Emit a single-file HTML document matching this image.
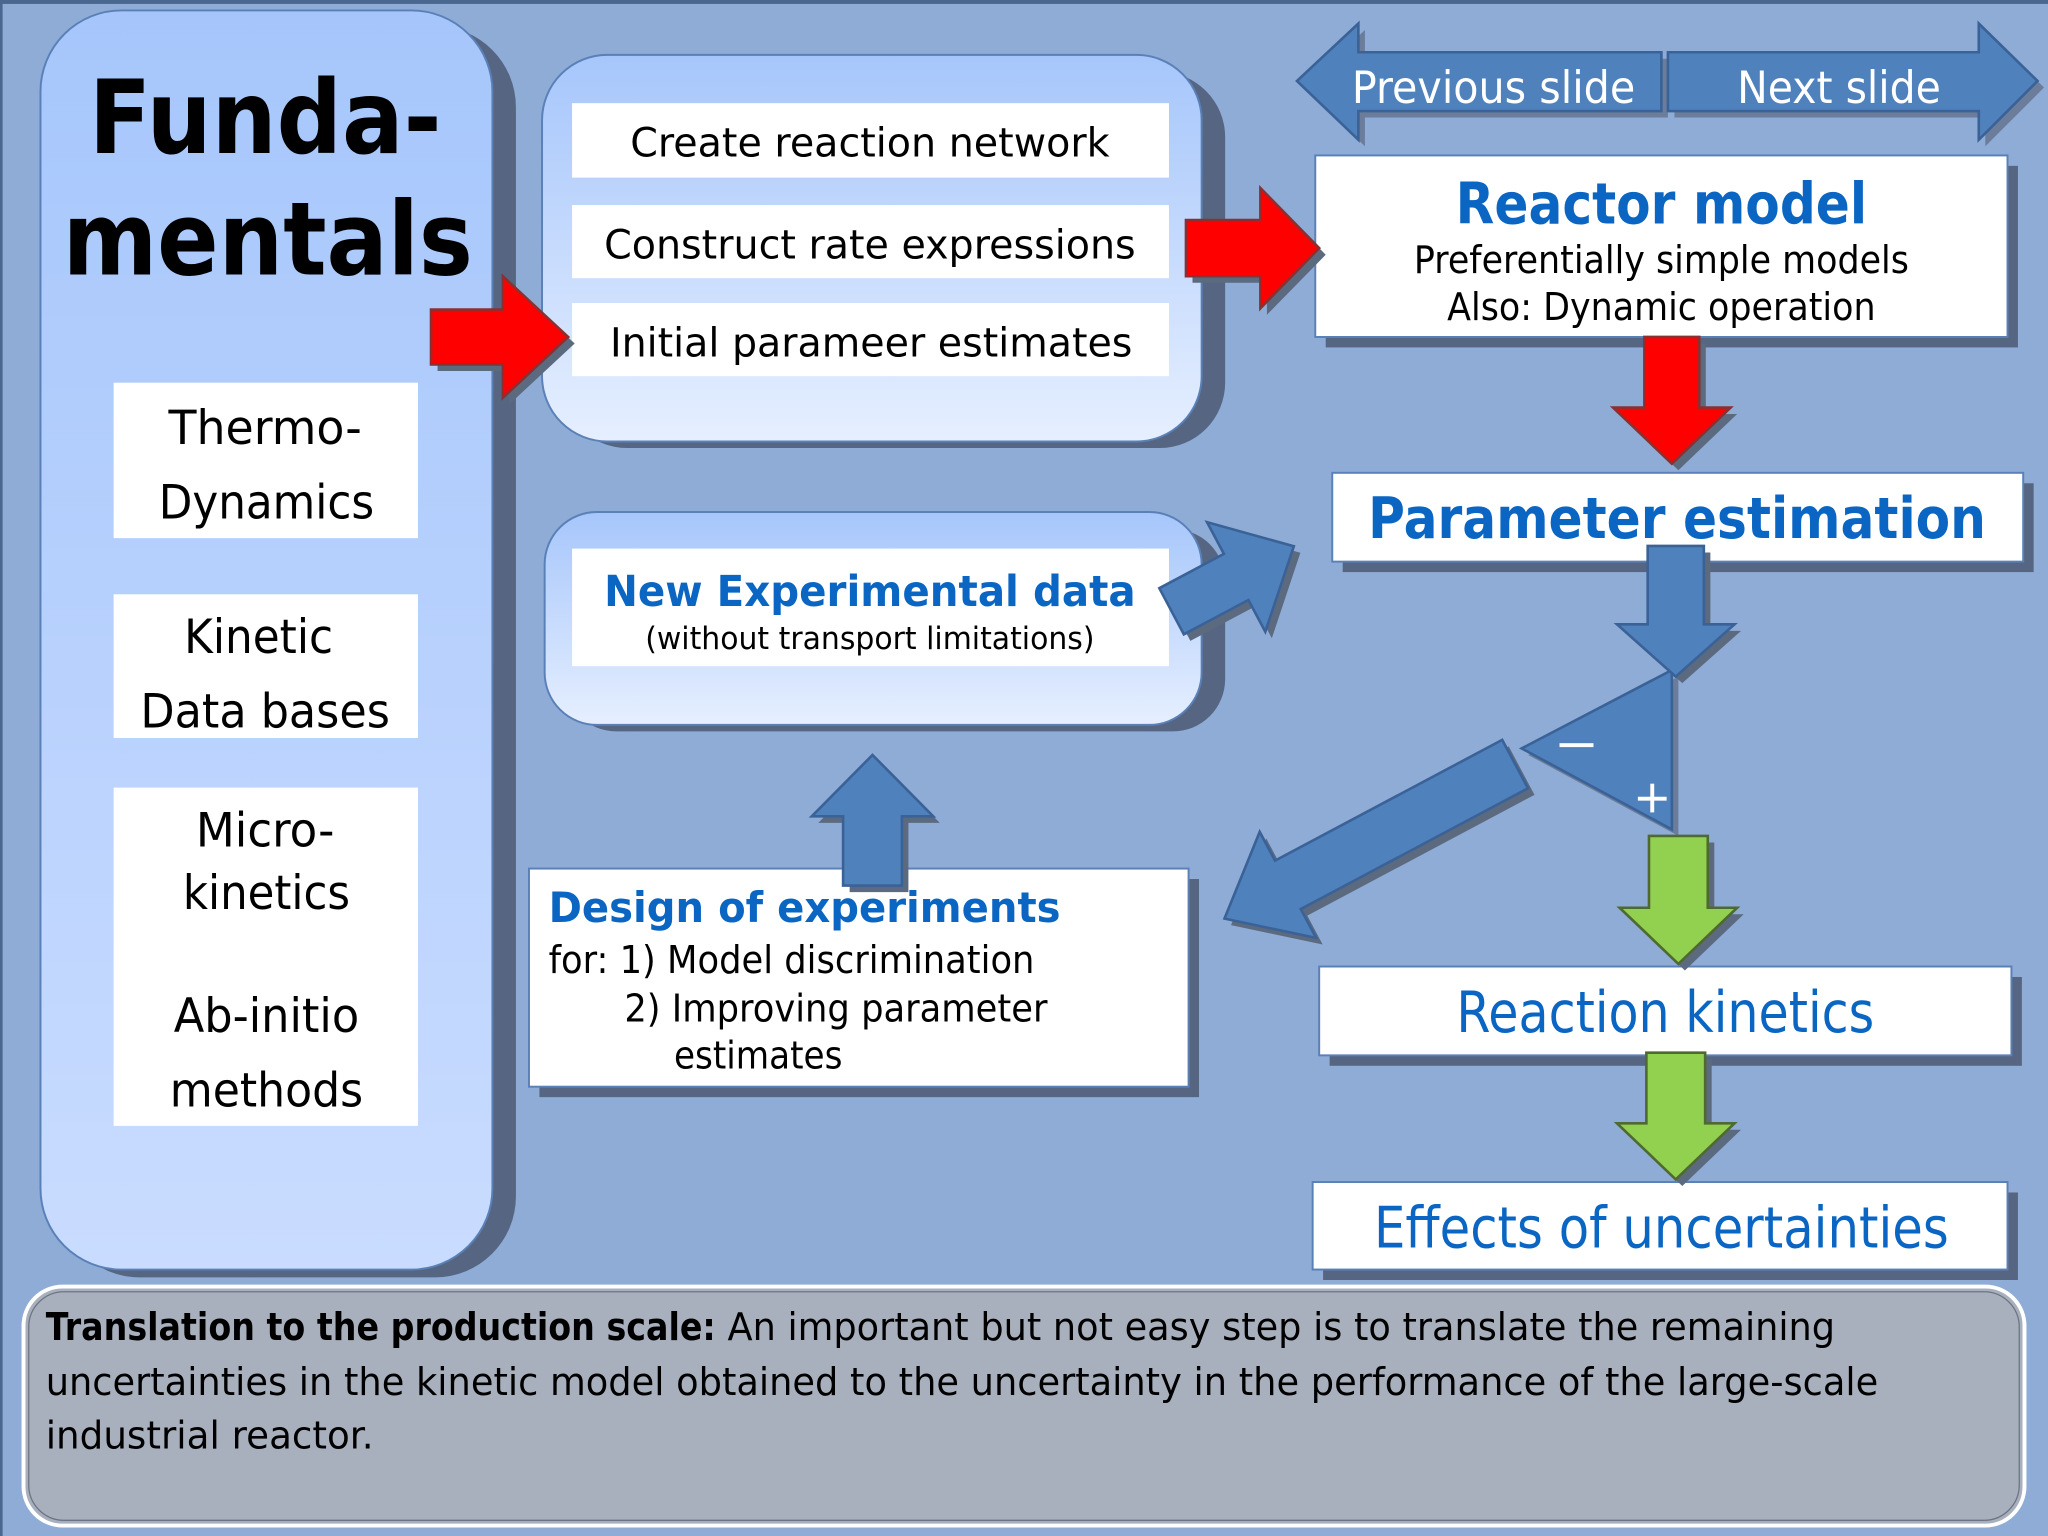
<!DOCTYPE html>
<html><head><meta charset="utf-8"><style>html,body{margin:0;padding:0;background:#8eacd6}svg{display:block}text{font-family:"DejaVu Sans","Liberation Sans",sans-serif}</style></head>
<body>
<svg width="2048" height="1536" viewBox="0 0 1568 1176" xmlns="http://www.w3.org/2000/svg">
<defs>
<linearGradient id="gp" x1="0" y1="0" x2="0" y2="1"><stop offset="0" stop-color="#a6c6fb"/><stop offset="1" stop-color="#c9dcff"/></linearGradient>
<linearGradient id="gm" x1="0" y1="0" x2="0" y2="1"><stop offset="0" stop-color="#a6c6fb"/><stop offset="1" stop-color="#e6efff"/></linearGradient>
</defs>
<rect width="1568" height="1176" fill="#8eacd6"/>
<rect x="0" y="0" width="1568" height="3" fill="#4a6790"/>
<rect x="0" y="0" width="2" height="1176" fill="#4a6790"/>
<!-- Fundamentals panel -->
<rect x="45" y="20" width="350" height="958" rx="62" fill="#566682"/>
<rect x="31" y="8" width="346" height="964" rx="62" fill="url(#gp)" stroke="#5a80b8" stroke-width="1.5"/>
<text x="203" y="117" font-size="78" font-weight="bold" text-anchor="middle" textLength="270" lengthAdjust="spacingAndGlyphs">Funda-</text>
<text x="205" y="210" font-size="78" font-weight="bold" text-anchor="middle" textLength="314" lengthAdjust="spacingAndGlyphs">mentals</text>
<rect x="87" y="293" width="233" height="119" fill="#fff"/>
<rect x="87" y="455" width="233" height="110" fill="#fff"/>
<rect x="87" y="603" width="233" height="259" fill="#fff"/>
<g font-size="36" text-anchor="middle">
<text x="203" y="340" textLength="148" lengthAdjust="spacingAndGlyphs">Thermo-</text>
<text x="204" y="397" textLength="165" lengthAdjust="spacingAndGlyphs">Dynamics</text>
<text x="198" y="500" textLength="114" lengthAdjust="spacingAndGlyphs">Kinetic</text>
<text x="203" y="557" textLength="191" lengthAdjust="spacingAndGlyphs">Data bases</text>
<text x="203" y="648" textLength="106" lengthAdjust="spacingAndGlyphs">Micro-</text>
<text x="204" y="696" textLength="128" lengthAdjust="spacingAndGlyphs">kinetics</text>
<text x="204" y="790" textLength="142" lengthAdjust="spacingAndGlyphs">Ab-initio</text>
<text x="204" y="847" textLength="148" lengthAdjust="spacingAndGlyphs">methods</text>
</g>
<!-- middle panel 1 -->
<rect x="430" y="55" width="508" height="288" rx="50" fill="#566682"/>
<rect x="415" y="42" width="505" height="296" rx="50" fill="url(#gm)" stroke="#5a80b8" stroke-width="1.5"/>
<rect x="438" y="79" width="457" height="57" fill="#fff"/>
<rect x="438" y="157" width="457" height="56" fill="#fff"/>
<rect x="438" y="232" width="457" height="56" fill="#fff"/>
<g font-size="31" text-anchor="middle">
<text x="666" y="120" textLength="367" lengthAdjust="spacingAndGlyphs">Create reaction network</text>
<text x="666" y="198" textLength="407" lengthAdjust="spacingAndGlyphs">Construct rate expressions</text>
<text x="667" y="273" textLength="400" lengthAdjust="spacingAndGlyphs">Initial parameer estimates</text>
</g>
<!-- middle panel 2 -->
<rect x="432" y="405" width="506" height="155" rx="40" fill="#566682"/>
<rect x="417" y="392" width="503" height="163" rx="40" fill="url(#gm)" stroke="#5a80b8" stroke-width="1.5"/>
<rect x="438" y="420" width="457" height="90" fill="#fff"/>
<text x="666" y="464" font-size="33" font-weight="bold" fill="#0a66c2" text-anchor="middle" textLength="407" lengthAdjust="spacingAndGlyphs">New Experimental data</text>
<text x="666" y="497" font-size="24" text-anchor="middle" textLength="344" lengthAdjust="spacingAndGlyphs">(without transport limitations)</text>
<!-- nav arrows -->
<path d="M998,67 L1045,23 V45 H1277 V90 H1045 V112 Z" fill="#5c6a80" opacity="0.7"/>
<path d="M993,62 L1040,18 V40 H1272 V85 H1040 V107 Z" fill="#4f81bd" stroke="#3b6296" stroke-width="2"/>
<path d="M1565,67 L1520,23 V45 H1282 V90 H1520 V112 Z" fill="#5c6a80" opacity="0.7"/>
<path d="M1560,62 L1515,18 V40 H1277 V85 H1515 V107 Z" fill="#4f81bd" stroke="#3b6296" stroke-width="2"/>
<text x="1035" y="79" font-size="34" fill="#fff" textLength="217" lengthAdjust="spacingAndGlyphs">Previous slide</text>
<text x="1330" y="79" font-size="34" fill="#fff" textLength="156" lengthAdjust="spacingAndGlyphs">Next slide</text>
<!-- right boxes -->
<rect x="1015" y="127" width="530" height="139" fill="#566682"/>
<rect x="1007" y="119" width="530" height="139" fill="#fff" stroke="#5a80b8" stroke-width="1.5"/>
<text x="1272" y="171" font-size="44" font-weight="bold" fill="#0a66c2" text-anchor="middle" textLength="315" lengthAdjust="spacingAndGlyphs">Reactor model</text>
<text x="1272" y="209" font-size="29" text-anchor="middle" textLength="379" lengthAdjust="spacingAndGlyphs">Preferentially simple models</text>
<text x="1272" y="245" font-size="29" text-anchor="middle" textLength="328" lengthAdjust="spacingAndGlyphs">Also: Dynamic operation</text>
<rect x="1028" y="370" width="529" height="68" fill="#566682"/>
<rect x="1020" y="362" width="529" height="68" fill="#fff" stroke="#5a80b8" stroke-width="1.5"/>
<text x="1284" y="412" font-size="44" font-weight="bold" fill="#0a66c2" text-anchor="middle" textLength="473" lengthAdjust="spacingAndGlyphs">Parameter estimation</text>
<rect x="1018" y="748" width="530" height="68" fill="#566682"/>
<rect x="1010" y="740" width="530" height="68" fill="#fff" stroke="#5a80b8" stroke-width="1.5"/>
<text x="1275" y="790" font-size="44" fill="#0a66c2" text-anchor="middle" textLength="320" lengthAdjust="spacingAndGlyphs">Reaction kinetics</text>
<rect x="1013" y="913" width="532" height="67" fill="#566682"/>
<rect x="1005" y="905" width="532" height="67" fill="#fff" stroke="#5a80b8" stroke-width="1.5"/>
<text x="1272" y="955" font-size="44" fill="#0a66c2" text-anchor="middle" textLength="440" lengthAdjust="spacingAndGlyphs">Effects of uncertainties</text>
<!-- design box -->
<rect x="413" y="673" width="505" height="167" fill="#566682"/>
<rect x="405" y="665" width="505" height="167" fill="#fff" stroke="#5a80b8" stroke-width="1.5"/>
<text x="420" y="706" font-size="32" font-weight="bold" fill="#0a66c2" textLength="392" lengthAdjust="spacingAndGlyphs">Design of experiments</text>
<g font-size="29">
<text x="420" y="745" textLength="372" lengthAdjust="spacingAndGlyphs">for: 1) Model discrimination</text>
<text x="478" y="782" textLength="324" lengthAdjust="spacingAndGlyphs">2) Improving parameter</text>
<text x="516" y="818" textLength="129" lengthAdjust="spacingAndGlyphs">estimates</text>
</g>
<!-- triangle -->
<path d="M1170,578 L1285,518 V640 Z" fill="#5c6a80" opacity="0.7"/>
<path d="M1165,573 L1280,513 V635 Z" fill="#4f81bd" stroke="#3b6296" stroke-width="2"/>
<rect x="1194" y="569" width="26" height="3" fill="#fff"/>
<rect x="1254" y="610" width="22" height="3" fill="#fff"/><rect x="1263.5" y="600" width="3" height="22" fill="#fff"/>
<!-- arrows -->
<g stroke-width="2">
<g transform="translate(335,263)"><path d="M0,-21 H55 V-46.5 L105,0 L55,46.5 V21 H0Z" fill="#5c6a80"/></g>
<g transform="translate(330,258)"><path d="M0,-21 H55 V-46.5 L105,0 L55,46.5 V21 H0Z" fill="#ff0000" stroke="#8a3030"/></g>
<g transform="translate(913,195)"><path d="M0,-21.5 H57 V-46 L102,0 L57,46 V21.5 H0Z" fill="#5c6a80"/></g>
<g transform="translate(908,190)"><path d="M0,-21.5 H57 V-46 L102,0 L57,46 V21.5 H0Z" fill="#ff0000" stroke="#8a3030"/></g>
<g transform="translate(1285,263) rotate(90)"><path d="M0,-21 H54 V-45 L97,0 L54,45 V21 H0Z" fill="#5c6a80"/></g>
<g transform="translate(1280,258) rotate(90)"><path d="M0,-21 H54 V-45 L97,0 L54,45 V21 H0Z" fill="#ff0000" stroke="#8a3030"/></g>
<g transform="translate(1288,423) rotate(90)"><path d="M0,-21.5 H60 V-45 L100,0 L60,45 V21.5 H0Z" fill="#5c6a80"/></g>
<g transform="translate(1283,418) rotate(90)"><path d="M0,-21.5 H60 V-45 L100,0 L60,45 V21.5 H0Z" fill="#4f81bd" stroke="#3b6296"/></g>
<g transform="translate(1290,645) rotate(90)"><path d="M0,-22.5 H55 V-45 L98,0 L55,45 V22.5 H0Z" fill="#5c6a80"/></g>
<g transform="translate(1285,640) rotate(90)"><path d="M0,-22.5 H55 V-45 L98,0 L55,45 V22.5 H0Z" fill="#92d050" stroke="#4f6a30"/></g>
<g transform="translate(1288,811) rotate(90)"><path d="M0,-22.5 H54 V-45 L97,0 L54,45 V22.5 H0Z" fill="#5c6a80"/></g>
<g transform="translate(1283,806) rotate(90)"><path d="M0,-22.5 H54 V-45 L97,0 L54,45 V22.5 H0Z" fill="#92d050" stroke="#4f6a30"/></g>
<g transform="translate(673,683) rotate(-90)"><path d="M0,-22.5 H53 V-46.5 L100,0 L53,46.5 V22.5 H0Z" fill="#5c6a80"/></g>
<g transform="translate(668,678) rotate(-90)"><path d="M0,-22.5 H53 V-46.5 L100,0 L53,46.5 V22.5 H0Z" fill="#4f81bd" stroke="#3b6296"/></g>
<g transform="translate(1165,590) rotate(152)"><path d="M0,-21 H197 V-46 L252,0 L197,46 V21 H0Z" fill="#5c6a80"/></g>
<g transform="translate(1160,585) rotate(152)"><path d="M0,-21 H197 V-46 L252,0 L197,46 V21 H0Z" fill="#4f81bd" stroke="#3b6296"/></g>
<g transform="translate(902,473) rotate(-28)"><path d="M0,-20 H56 V-47.5 L106,0 L56,47.5 V20 H0Z" fill="#5c6a80"/></g>
<g transform="translate(897,468) rotate(-28)"><path d="M0,-20 H56 V-47.5 L106,0 L56,47.5 V20 H0Z" fill="#4f81bd" stroke="#3b6296"/></g>
</g>
<!-- bottom box -->
<rect x="18" y="985" width="1532" height="183" rx="30" fill="#a9b0bd" stroke="#ffffff" stroke-width="3"/>
<rect x="22" y="989" width="1524" height="175" rx="27" fill="none" stroke="#6d7585" stroke-width="1"/>
<g font-size="29">
<text x="35" y="1026" font-weight="bold" textLength="513" lengthAdjust="spacingAndGlyphs">Translation to the production scale:</text>
<text x="557" y="1026" textLength="848" lengthAdjust="spacingAndGlyphs">An important but not easy step is to translate the remaining</text>
<text x="35" y="1068" textLength="1403" lengthAdjust="spacingAndGlyphs">uncertainties in the kinetic model obtained to the uncertainty in the performance of the large-scale</text>
<text x="35" y="1109" textLength="251" lengthAdjust="spacingAndGlyphs">industrial reactor.</text>
</g>
</svg>
</body></html>
